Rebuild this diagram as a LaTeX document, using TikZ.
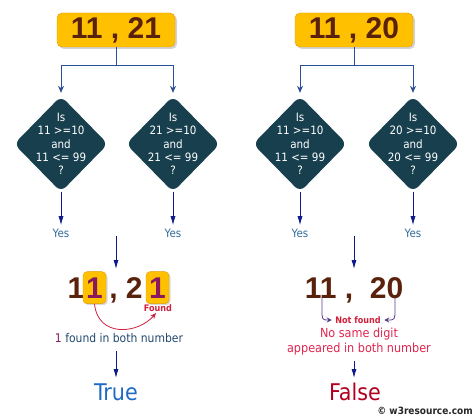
\documentclass[tikz,border=0pt]{standalone}
\usepackage{fontspec}
\setmainfont{DejaVu Sans Condensed}
\newfontfamily\numfont{Liberation Sans}
\usetikzlibrary{shapes.geometric,arrows.meta,shadows}

\definecolor{boxorange}{HTML}{FFC000}
\definecolor{boxedge}{HTML}{E39B00}
\definecolor{numbrown}{HTML}{5A220C}
\definecolor{digitpurple}{HTML}{8A1A5E}
\definecolor{testteal}{HTML}{173F4E}
\definecolor{treeblue}{HTML}{2A4F9A}
\definecolor{navy}{HTML}{0D1A8C}
\definecolor{yesblue}{HTML}{2F6C9A}
\definecolor{noteblue}{HTML}{24496E}
\definecolor{trueblue}{HTML}{1F6BC4}
\definecolor{foundred}{HTML}{D1203C}
\definecolor{msgred}{HTML}{E0254F}
\definecolor{falsered}{HTML}{B2001F}
\definecolor{curvepurple}{HTML}{5A3F8C}

\tikzset{
  pairbox/.style={draw=boxedge, fill=boxorange, rounded corners=5pt,
    minimum width=118pt, minimum height=34pt, inner sep=0pt, text=numbrown,
    font=\numfont\bfseries\fontsize{30}{30}\selectfont,
    drop shadow={opacity=0.35, shadow xshift=2pt, shadow yshift=-2pt}},
  test/.style={diamond, fill=testteal, rounded corners=7pt,
    minimum width=94pt, minimum height=96pt, inner sep=0pt},
  testtxt/.style={text=white, align=center, inner sep=0pt,
    font=\fontsize{11.5}{13.3}\selectfont},
  yes/.style={text=yesblue, font=\fontsize{11.5}{12}\selectfont},
  digit/.style={text=numbrown, inner sep=0pt, anchor=base,
    font=\numfont\bfseries\fontsize{30}{30}\selectfont},
  hit/.style={digit, draw=boxedge, fill=boxorange, rounded corners=4pt,
    text=digitpurple, minimum width=23pt, minimum height=32pt,
    drop shadow={opacity=0.3, shadow xshift=1.5pt, shadow yshift=-1.5pt}},
  treearrow/.style={draw=treeblue, thick, -{Stealth[length=7pt,width=6pt]}},
  downarrow/.style={draw=navy, thick, -{Latex[length=9pt,width=5pt]}}
}

\begin{document}
\begin{tikzpicture}[x=1pt,y=-1pt]
\useasboundingbox (0,0) rectangle (474,420);

% left case
\node[pairbox] (t1) at (116,30) {11 , 21};
\coordinate (j1) at (116,65);
\node[test] (d1) at (61,144) {};
\node[test] (d2) at (173,144) {};
\node[testtxt] (q1) at (d1) {Is\\11 >=10\\and\\11 <= 99\\?};
\node[testtxt] (q2) at (d2) {Is\\21 >=10\\and\\21 <= 99\\?};
\node[yes] (y1) at (61,233) {Yes};
\node[yes] (y2) at (173,233) {Yes};

\path[draw,treeblue,thick] (t1.south) -- (j1);
\path[treearrow] (j1) -| ([yshift=3pt]d1.north);
\path[treearrow] (j1) -| ([yshift=3pt]d2.north);
\path[downarrow] (d1.south) -- (y1.north);
\path[downarrow] (d2.south) -- (y2.north);

\coordinate (m1) at (116,236);
\coordinate (m1e) at (116,269);
\path[downarrow] (m1) -- (m1e);

\node[digit] (a1) at (76,298) {1};
\node[hit] (b1) at (94.5,298) {1};
\node[digit] (c1) at (126,298) {, 2};
\node[hit] (e1) at (157.5,298) {1};
\node[text=foundred, font=\bfseries\fontsize{9}{9}\selectfont] (f1) at (158,308) {Found};
\path[draw,foundred,thick,-{Stealth[length=6pt,width=5pt]}] (b1.south)
  .. controls (98,338) and (138,334) .. ([xshift=-2pt,yshift=2pt]f1.south);

\node[text=noteblue, font=\fontsize{12}{12}\selectfont] (n1) at (119,338)
  {\textcolor{digitpurple}{1} found in both number};
\coordinate (k1) at (116,351);
\coordinate (k1e) at (116,378);
\path[downarrow] (k1) -- (k1e);
\node[text=trueblue, font=\fontsize{23}{23}\selectfont] (v1) at (116,392) {True};

% right case
\node[pairbox] (t2) at (354,30) {11 , 20};
\coordinate (j2) at (354,65);
\node[test] (d3) at (300,144) {};
\node[test] (d4) at (413,144) {};
\node[testtxt] (q3) at (d3) {Is\\11 >=10\\and\\11 <= 99\\?};
\node[testtxt] (q4) at (d4) {Is\\20 >=10\\and\\20 <= 99\\?};
\node[yes] (y3) at (300,233) {Yes};
\node[yes] (y4) at (413,233) {Yes};

\path[draw,treeblue,thick] (t2.south) -- (j2);
\path[treearrow] (j2) -| ([yshift=3pt]d3.north);
\path[treearrow] (j2) -| ([yshift=3pt]d4.north);
\path[downarrow] (d3.south) -- (y3.north);
\path[downarrow] (d4.south) -- (y4.north);

\coordinate (m2) at (354,236);
\coordinate (m2e) at (354,269);
\path[downarrow] (m2) -- (m2e);

\node[digit] (p2) at (354,298) {11 ,\ \ 20};
\node[text=foundred, font=\bfseries\fontsize{9}{9}\selectfont] (f2) at (358,320) {Not found};
\coordinate (s1) at (322,298);
\coordinate (s2) at (395,298);
\path[draw,curvepurple,thick,-{Stealth[length=5pt,width=5pt]}] (s1) -- (322,309)
  .. controls (322,320) .. (f2.west);
\path[draw,curvepurple,thick,-{Stealth[length=5pt,width=5pt]}] (s2) -- (395,309)
  .. controls (395,320) .. (f2.east);

\node[text=msgred, align=center, font=\fontsize{12.5}{15}\selectfont] (n2) at (359,342)
  {No same digit\\appeared in both number};
\coordinate (k2) at (354,361);
\coordinate (k2e) at (354,378);
\path[downarrow] (k2) -- (k2e);
\node[text=falsered, font=\fontsize{23}{23}\selectfont] (v2) at (355,392) {False};

\node[text=black!85, font=\bfseries\fontsize{10}{10}\selectfont] (w) at (425,411) {© w3resource.com};
\end{tikzpicture}
\end{document}
